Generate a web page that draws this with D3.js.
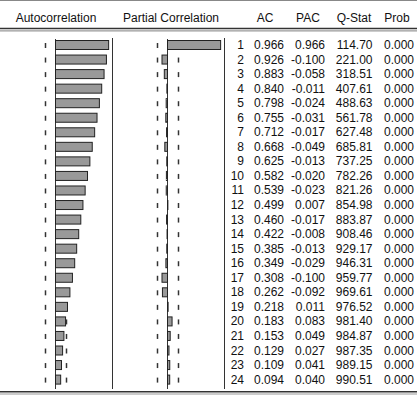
<!DOCTYPE html>
<html lang="en">
<head>
<meta charset="utf-8">
<title>Correlogram</title>
<script src="https://d3js.org/d3.v7.min.js"></script>
<style>
  body { margin: 0; background: #fff; }
  svg text { font-family: "Liberation Sans", Arial, sans-serif; font-size: 12px; fill: #111; }
</style>
</head>
<body>
<script>
// correlogram values
var lags = d3.range(1, 25);
var ac = [0.966, 0.926, 0.883, 0.840, 0.798, 0.755, 0.712, 0.668, 0.625, 0.582, 0.539, 0.499,
          0.460, 0.422, 0.385, 0.349, 0.308, 0.262, 0.218, 0.183, 0.153, 0.129, 0.109, 0.094];
var pac = [0.966, -0.100, -0.058, -0.011, -0.024, -0.031, -0.017, -0.049, -0.013, -0.020, -0.023, 0.007,
           -0.017, -0.008, -0.013, -0.029, -0.100, -0.092, 0.011, 0.083, 0.049, 0.027, 0.041, 0.040];
var qstat = ["114.70", "221.00", "318.51", "407.61", "488.63", "561.78", "627.48", "685.81",
             "737.25", "782.26", "821.26", "854.98", "883.87", "908.46", "929.17", "946.31",
             "959.77", "969.61", "976.52", "981.40", "984.87", "987.35", "989.15", "990.51"];
var prob = ["0.000", "0.000", "0.000", "0.000", "0.000", "0.000", "0.000", "0.000",
            "0.000", "0.000", "0.000", "0.000", "0.000", "0.000", "0.000", "0.000",
            "0.000", "0.000", "0.000", "0.000", "0.000", "0.000", "0.000", "0.000"];
var nobs = 120;
var bound = 2 / Math.sqrt(nobs);

var w = 417, h = 395;

var svg = d3.select("body").append("svg")
    .attr("width", w)
    .attr("height", h);

// row positions
var y = d3.scaleLinear().domain([1, 24]).range([45, 379.6]);

// bar scales for the two panels
var xAC = d3.scaleLinear().domain([-1, 1]).range([0.5, 110.5]);
var xPAC = d3.scaleLinear().domain([-1, 1]).range([112.5, 222.5]);

// frame lines
svg.append("line").attr("x1", 0).attr("x2", w).attr("y1", 0.5).attr("y2", 0.5)
   .attr("stroke", "#888");
svg.append("line").attr("x1", 0).attr("x2", w).attr("y1", 28.5).attr("y2", 28.5)
   .attr("stroke", "#333").attr("stroke-width", 1.5);
svg.append("line").attr("x1", 0).attr("x2", w).attr("y1", 30.8).attr("y2", 30.8)
   .attr("stroke", "#999").attr("stroke-width", 1.2);
svg.append("line").attr("x1", 0).attr("x2", w).attr("y1", 391.8).attr("y2", 391.8)
   .attr("stroke", "#333").attr("stroke-width", 1.5);
svg.append("line").attr("x1", 0).attr("x2", w).attr("y1", 394).attr("y2", 394)
   .attr("stroke", "#999").attr("stroke-width", 1.2);

// header
var heads = [
  {t: "Autocorrelation", x: 56},
  {t: "Partial Correlation", x: 171},
  {t: "AC", x: 265},
  {t: "PAC", x: 308},
  {t: "Q-Stat", x: 354},
  {t: "Prob", x: 397}
];
svg.selectAll(".head").data(heads).enter().append("text")
   .attr("class", "head")
   .attr("x", function(d) { return d.x; })
   .attr("y", 22)
   .attr("text-anchor", "middle")
   .text(function(d) { return d.t; });

// separators
[112, 224].forEach(function(sx) {
  svg.append("line").attr("x1", sx + 0.5).attr("x2", sx + 0.5)
     .attr("y1", 38).attr("y2", 389)
     .attr("stroke", "#333");
});

function panel(vals, x) {
  var g = svg.append("g");
  // confidence dashes
  [-bound, bound].forEach(function(b) {
    g.selectAll(null).data(lags).enter().append("line")
     .attr("x1", Math.round(x(b)) + 0.5).attr("x2", Math.round(x(b)) + 0.5)
     .attr("y1", function(d) { return y(d) - 2; })
     .attr("y2", function(d) { return y(d) + 3; })
     .attr("stroke", "#333").attr("stroke-width", 1.5);
  });
  // zero axis
  g.append("line").attr("x1", x(0)).attr("x2", x(0))
   .attr("y1", 39).attr("y2", 389)
   .attr("stroke", "#333");
  // bars
  g.selectAll("rect").data(vals).enter().append("rect")
   .attr("x", function(d) { return Math.min(x(0), x(d)); })
   .attr("y", function(d, i) { return y(lags[i]) - 4.5; })
   .attr("width", function(d) { return Math.abs(x(d) - x(0)); })
   .attr("height", 9)
   .attr("fill", "#999")
   .attr("stroke", "#222");
}
panel(ac, xAC);
panel(pac, xPAC);

// number columns
var cols = [
  {vals: lags, x: 244, f: function(d) { return d; }},
  {vals: ac, x: 284, f: d3.format(".3f")},
  {vals: pac, x: 325, f: function(d) { return d3.format(".3f")(d).replace("\u2212", "-"); }},
  {vals: qstat, x: 372.5, f: function(d) { return d; }},
  {vals: prob, x: 414, f: function(d) { return d; }}
];
cols.forEach(function(c) {
  svg.selectAll(null).data(c.vals).enter().append("text")
     .attr("x", c.x)
     .attr("y", function(d, i) { return y(lags[i]) + 4; })
     .attr("text-anchor", "end")
     .text(c.f);
});
</script>
</body>
</html>
